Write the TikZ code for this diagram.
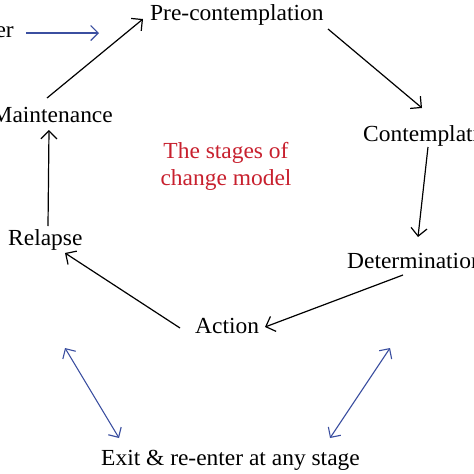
\documentclass[tikz,border=0pt]{standalone}
\usepackage{fontspec}
\setmainfont{Liberation Serif}[FakeStretch=1.02]
\usetikzlibrary{arrows.meta}
\definecolor{stagered}{RGB}{200,32,46}
\definecolor{exitblue}{RGB}{59,79,160}
\begin{document}
\begin{tikzpicture}[x=1pt,y=-1pt,
  lbl/.style={inner sep=0pt,font=\fontsize{23}{27}\selectfont},
  arr/.style={line width=1.2pt,-{Straight Barb[length=8pt,width=16pt,line width=1.2pt]}},
  barr/.style={line width=1.1pt,exitblue,-{Straight Barb[length=7.5pt,width=15pt,line width=1.1pt]}},
  dbarr/.style={line width=1.1pt,exitblue,{Straight Barb[length=7.5pt,width=15pt,line width=1.1pt]}-{Straight Barb[length=7.5pt,width=15pt,line width=1.1pt]}}]
\useasboundingbox (0,0) rectangle (474,474);
\clip (0,0) rectangle (474,474);
\fill[white] (0,0) rectangle (474,474);
% stages
\node[lbl,anchor=base west] (pre) at (150,20) {Pre-contemplation};
\node[lbl,anchor=base west] (cont) at (363,141) {Contemplation};
\node[lbl,anchor=base west] (det) at (347,268) {Determination};
\node[lbl,anchor=base west] (action) at (195,333) {Action};
\node[lbl,anchor=base west] (relapse) at (8,245) {Relapse};
\node[lbl,anchor=base east] (maint) at (113,122) {Maintenance};
\node[lbl,anchor=base east] (enter) at (14,37) {Enter};
\node[lbl,anchor=base west] (exit) at (101,465) {Exit \& re-enter at any stage};
\node[lbl,align=center,text=stagered] (title) at (226,166) {The stages of\\change model};
% free ends
\coordinate (enterend) at (99,33);
\coordinate (leftexit) at (65,348);
\coordinate (rightexit) at (390,348);
% cycle arrows
\draw[arr] ([shift={(-66,-24)}]maint.base east) -- ([shift={(-7,-1)}]pre.base west);
\draw[arr] ([shift={(178,9)}]pre.base west) -- ([shift={(59,-33)}]cont.base west);
\draw[arr] ([shift={(65,6)}]cont.base west) -- ([shift={(71,-31)}]det.base west);
\draw[arr] ([shift={(56,7)}]det.base west) -- ([shift={(70,-6)}]action.base west);
\draw[arr] ([shift={(-15,-5)}]action.base west) -- ([shift={(57,8)}]relapse.base west);
\draw[arr] ([shift={(40,-19)}]relapse.base west) -- ([shift={(-64,8)}]maint.base east);
% blue arrows
\draw[barr] ([shift={(12,-4)}]enter.base east) -- (enterend);
\draw[dbarr] (leftexit) -- ([shift={(18,-27)}]exit.base west);
\draw[dbarr] (rightexit) -- ([shift={(229,-27)}]exit.base west);
\end{tikzpicture}
\end{document}
